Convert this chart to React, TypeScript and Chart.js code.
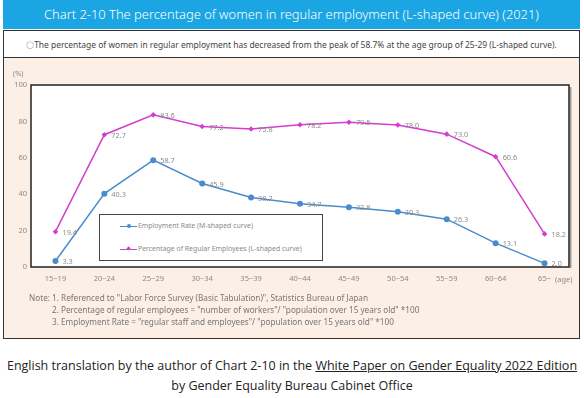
import React, { useEffect, useRef } from "react";
import { Chart, registerables } from "chart.js";

Chart.register(...registerables);

const ageGroups = ["15~19", "20~24", "25~29", "30~34", "35~39", "40~44", "45~49", "50~54", "55~59", "60~64", "65~"];
const employmentRate = [3.3, 40.3, 58.7, 45.9, 38.2, 34.7, 32.8, 30.3, 26.3, 13.1, 2.0];
const regularRate = [19.4, 72.7, 83.6, 77.2, 75.8, 78.2, 79.5, 78.0, 73.0, 60.6, 18.2];
const seriesNames = ["Employment Rate (M-shaped curve)", "Percentage of Regular Employees (L-shaped curve)"];
const yMin = 0;
const yMax = 100;
const yStep = 20;

const titleText = "Chart 2-10 The percentage of women in regular employment (L-shaped curve) (2021)";
const subtitleText = "〇The percentage of women in regular employment has decreased from the peak of 58.7% at the age group of 25-29 (L-shaped curve).";
const noteLines = [
  "Note: 1. Referenced to \"Labor Force Survey (Basic Tabulation)\", Statistics Bureau of Japan",
  "2. Percentage of regular employees = \"number of workers\"/ \"population over 15 years old\" *100",
  "3. Employment Rate = \"regular staff and employees\"/ \"population over 15 years old\" *100",
];

const BLUE = "#4a8ccb";
const MAGENTA = "#d23fcf";
const GRAY = "#8a8a8a";
const PEACH = "#fcefe6";
const FONT = "'Noto Sans', sans-serif";

const plotDecor = {
  id: "plotDecor",
  beforeDatasetsDraw(chart: any) {
    const { ctx, chartArea: a } = chart;
    ctx.save();
    ctx.fillStyle = "#ffffff";
    ctx.fillRect(a.left, a.top, a.right - a.left, a.bottom - a.top);
    ctx.strokeStyle = "#a0a0a0";
    ctx.lineWidth = 2;
    ctx.beginPath();
    ctx.moveTo(a.right + 1.5, a.top + 2);
    ctx.lineTo(a.right + 1.5, a.bottom + 1);
    ctx.stroke();
    ctx.strokeStyle = "#222222";
    ctx.lineWidth = 1.5;
    ctx.strokeRect(a.left, a.top, a.right - a.left, a.bottom - a.top);
    ctx.restore();
  },
  afterDatasetsDraw(chart: any) {
    const { ctx } = chart;
    ctx.save();
    ctx.fillStyle = GRAY;
    ctx.font = `7.3px ${FONT}`;
    ctx.textAlign = "left";
    ctx.textBaseline = "middle";
    chart.data.datasets.forEach((ds: any, i: number) => {
      const meta = chart.getDatasetMeta(i);
      meta.data.forEach((pt: any, j: number) => {
        ctx.fillText(Number(ds.data[j]).toFixed(1), pt.x + 7, pt.y + 1);
      });
    });
    ctx.restore();
  },
};

function ChartCanvas() {
  const ref = useRef<HTMLCanvasElement | null>(null);
  useEffect(() => {
    if (!ref.current) return;
    const chart = new Chart(ref.current, {
      type: "line",
      data: {
        labels: ageGroups,
        datasets: [
          {
            label: seriesNames[0],
            data: employmentRate,
            borderColor: BLUE,
            backgroundColor: BLUE,
            borderWidth: 1.5,
            pointStyle: "circle",
            pointRadius: 3,
            pointBorderWidth: 0,
            tension: 0,
          },
          {
            label: seriesNames[1],
            data: regularRate,
            borderColor: MAGENTA,
            backgroundColor: MAGENTA,
            borderWidth: 1.5,
            pointStyle: "rectRot",
            pointRadius: 2.8,
            pointBorderWidth: 0,
            tension: 0,
          },
        ],
      },
      options: {
        animation: false,
        responsive: false,
        maintainAspectRatio: false,
        layout: { padding: { top: 27, right: 9, left: 0, bottom: 0 } },
        plugins: { legend: { display: false }, tooltip: { enabled: false }, title: { display: false } },
        scales: {
          x: {
            type: "category",
            offset: true,
            grid: { display: false, drawTicks: false },
            border: { display: false },
            ticks: { color: GRAY, font: { size: 7.5, family: FONT }, maxRotation: 0, autoSkip: false, padding: 7 },
            afterFit: (s: any) => { s.height = 71; },
          },
          y: {
            min: yMin,
            max: yMax,
            grid: { display: false, drawTicks: false },
            border: { display: false },
            ticks: { stepSize: yStep, color: GRAY, font: { size: 7.5, family: FONT }, padding: 4 },
            afterFit: (s: any) => { s.width = 28; },
          },
        },
      },
      plugins: [plotDecor],
    });
    return () => chart.destroy();
  }, []);
  return <canvas ref={ref} width={575} height={280} style={{ position: "absolute", left: 3, top: 58, width: 575, height: 280 }} />;
}

function LegendRow({ color, round, text, top }: { color: string; round: boolean; text: string; top: number }) {
  return (
    <div style={{ position: "absolute", left: 0, top, height: 10, width: 220 }}>
      <div style={{ position: "absolute", left: 20, top: 4.5, width: 17, height: 1.2, background: color }} />
      <div
        style={{
          position: "absolute",
          left: round ? 26.5 : 27,
          top: round ? 3 : 3.2,
          width: round ? 4 : 3.2,
          height: round ? 4 : 3.2,
          background: color,
          borderRadius: round ? "50%" : 0,
          transform: round ? "none" : "rotate(45deg)",
        }}
      />
      <div style={{ position: "absolute", left: 38, top: 0, fontSize: 6.9, lineHeight: "10px", color: GRAY, whiteSpace: "nowrap", fontFamily: FONT }}>
        {text}
      </div>
    </div>
  );
}

export default function App() {
  return (
    <div style={{ position: "fixed", left: 0, top: 0, width: 584, height: 398, background: "#ffffff", fontFamily: FONT, overflow: "hidden" }}>
      <div
        style={{
          position: "absolute", left: 3, top: 0, width: 577, height: 29, background: "#1ba5e2",
          color: "#ffffff", fontSize: 12.9, lineHeight: "29px", textAlign: "center", whiteSpace: "nowrap", fontWeight: 300,
        }}
      >
        {titleText}
      </div>
      <div
        style={{
          position: "absolute", left: 3, top: 30, width: 577, height: 28, boxSizing: "border-box",
          border: "1px solid #333", borderBottom: "1.5px solid #333", background: "#ffffff", color: "#444",
          fontSize: 8.45, lineHeight: "27px", textAlign: "center", whiteSpace: "nowrap",
        }}
      >
        {subtitleText}
      </div>
      <div
        style={{
          position: "absolute", left: 3, top: 58, width: 577, height: 281, boxSizing: "border-box",
          background: PEACH, borderLeft: "1.5px solid #333", borderRight: "1.5px solid #333", borderBottom: "1.5px solid #333",
        }}
      />
      <ChartCanvas />
      <div style={{ position: "absolute", left: 13, top: 68, fontSize: 7.3, color: GRAY, lineHeight: "10px" }}>(%)</div>
      <div style={{ position: "absolute", left: 555, top: 274, fontSize: 7.5, color: GRAY, lineHeight: "10px" }}>(age)</div>
      <div
        style={{
          position: "absolute", left: 99, top: 214, width: 224, height: 47, boxSizing: "border-box",
          border: "1.5px solid #444", background: "#ffffff",
        }}
      >
        <LegendRow color={BLUE} round={true} text={seriesNames[0]} top={6} />
        <LegendRow color={MAGENTA} round={false} text={seriesNames[1]} top={29} />
      </div>
      {noteLines.map((t, i) => (
        <div
          key={i}
          style={{
            position: "absolute", left: i === 0 ? 29 : 52, top: 292 + i * 12, fontSize: 8.2, lineHeight: "12px",
            color: "#777", whiteSpace: "nowrap",
          }}
        >
          {t}
        </div>
      ))}
      <div
        style={{
          position: "absolute", left: 0, top: 356, width: 584, textAlign: "center", fontSize: 12.5, lineHeight: "20px",
          color: "#222", fontFamily: "'Open Sans', sans-serif", whiteSpace: "nowrap",
        }}
      >
        English translation by the author of Chart 2-10 in the{" "}
        <span style={{ textDecoration: "underline" }}>White Paper on Gender Equality 2022 Edition</span>
        <br />
        by Gender Equality Bureau Cabinet Office
      </div>
    </div>
  );
}
